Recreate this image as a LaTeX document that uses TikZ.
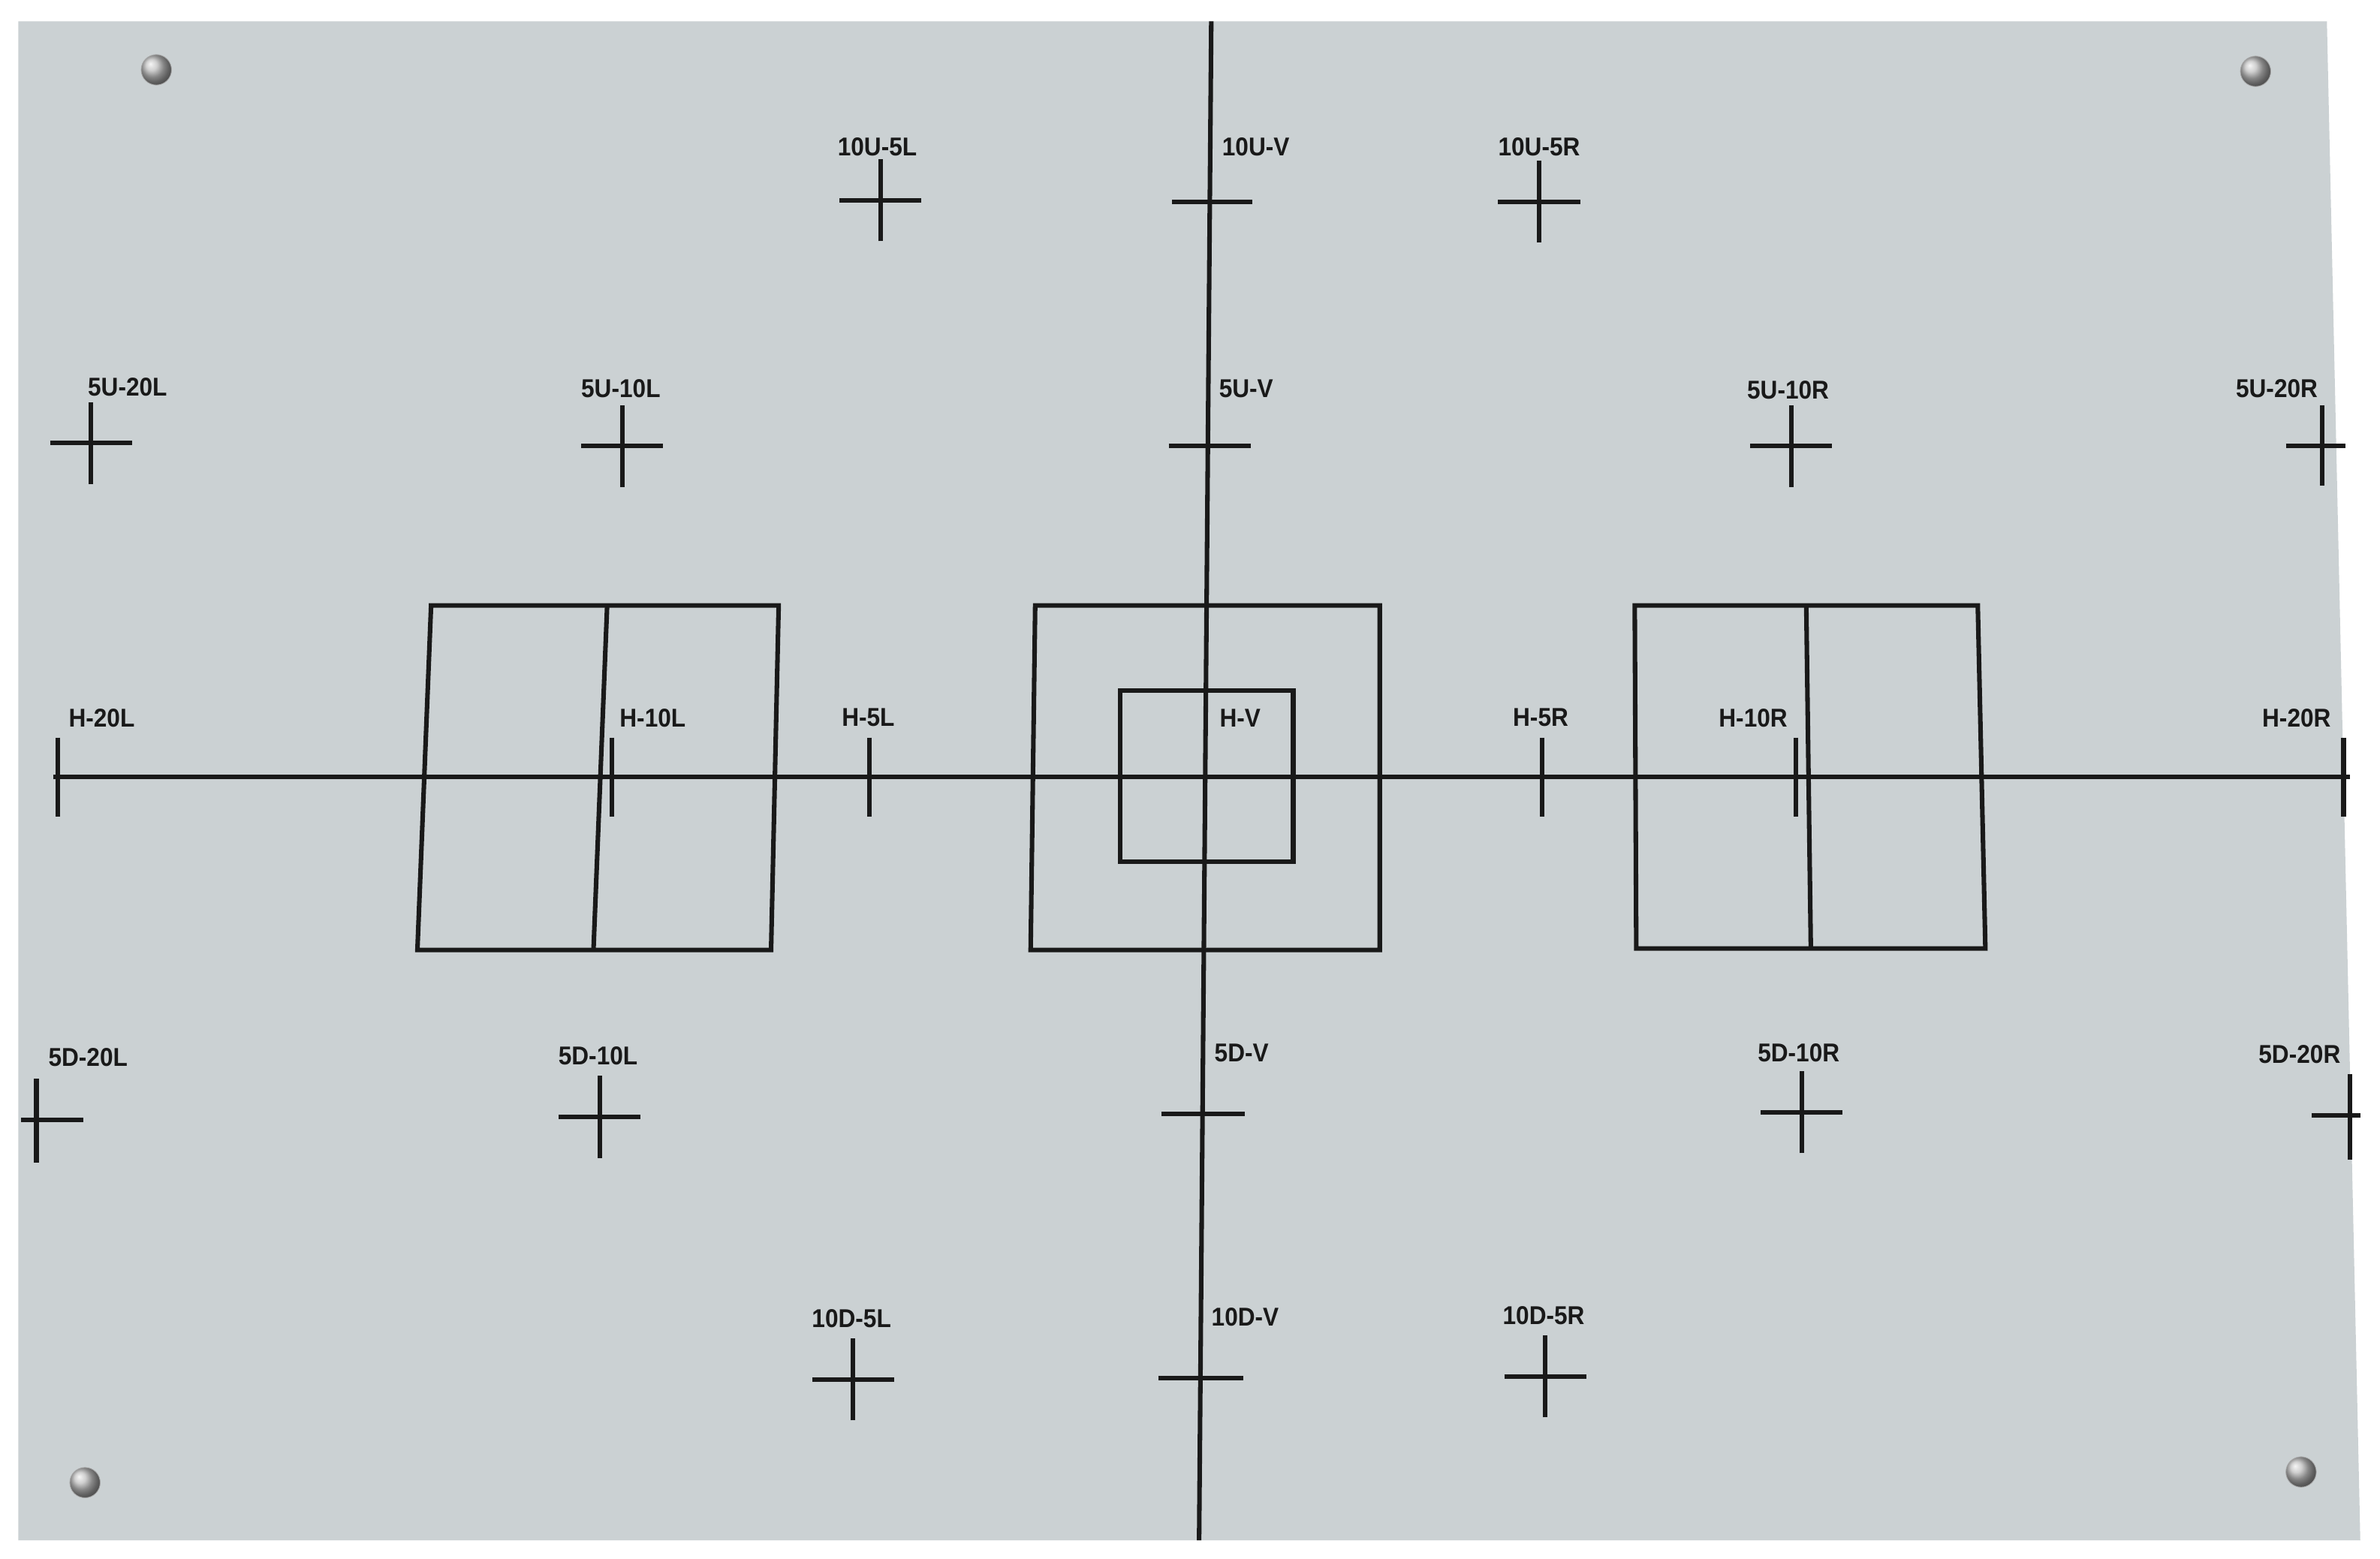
\documentclass[tikz,border=0pt]{standalone}
\usepackage{fontspec}
\setmainfont{Liberation Sans}
\definecolor{board}{HTML}{CBD1D3}
\begin{document}
\begin{tikzpicture}[x=1pt,y=-1pt,
  ln/.style={line width=3pt,black!90},
  lab/.style={font=\bfseries\fontsize{17}{17}\selectfont,inner sep=0pt,text=black!90,xscale=0.92},
  screw/.style={circle,minimum size=20pt,inner sep=0pt,ball color=gray!50,draw=gray!70}]
\useasboundingbox (0,0) rectangle (1568,1027);
\fill[white] (0,0) rectangle (1568,1027);
\fill[board] (12,14) -- (1533,14) -- (1555,1015) -- (12,1015) -- cycle;
\node[screw] (s1) at (103,46) {};
\node[screw] (s2) at (1486,47) {};
\node[screw] (s3) at (56,977) {};
\node[screw] (s4) at (1516,970) {};
% axes
\coordinate (vt) at (798,14); \coordinate (vb) at (790,1015);
\coordinate (hl) at (35,512); \coordinate (hr) at (1548,512);
\draw[ln] (vt) -- (vb);
\draw[ln] (hl) -- (hr);
% crosses
\newcommand{\crs}[3]{\coordinate (#1) at (#2,#3);
  \draw[ln] ([xshift=-27pt]#1) -- ([xshift=27pt]#1) ([yshift=-27pt]#1) -- ([yshift=27pt]#1);}
\crs{c1}{580}{132}\crs{c2}{1014}{133}
\crs{c3}{60}{292}\crs{c4}{410}{294}\crs{c5}{1180}{294}
\crs{c6}{395}{736}\crs{c7}{1187}{733}
\crs{c8}{562}{909}\crs{c9}{1018}{907}
\draw[ln] (1506,294) -- (1545,294) (1530,267) -- (1530,320);
\draw[ln] (14,738) -- (55,738) (24,711) -- (24,766);
\draw[ln] (1523,735) -- (1555,735) (1548,708) -- (1548,764);
% ticks on vertical
\foreach \y/\a/\b in {133/772/825,294/770/824,734/765/820,908/763/819}
  \draw[ln] (\a,\y) -- (\b,\y);
% ticks on horizontal
\foreach \x in {38,403,573,1016,1183,1544}
  \draw[ln] (\x,486) -- (\x,538);
% boxes
\draw[ln] (284,399) -- (513,399) -- (508,626) -- (275,626) -- cycle;
\draw[ln] (400,399) -- (391,626);
\draw[ln] (682,399) -- (909,399) -- (909,626) -- (679,626) -- cycle;
\draw[ln] (738,455) rectangle (852,568);
\draw[ln] (1077,399) -- (1303,399) -- (1308,625) -- (1078,625) -- cycle;
\draw[ln] (1190,399) -- (1193,625);
% labels
\node[lab] (l1) at (578,97) {10U-5L};
\node[lab,anchor=west] (l2) at (805,97) {10U-V};
\node[lab] (l3) at (1014,97) {10U-5R};
\node[lab] (l4) at (84,255) {5U-20L};
\node[lab] (l5) at (409,256) {5U-10L};
\node[lab,anchor=west] (l6) at (803,256) {5U-V};
\node[lab] (l7) at (1178,257) {5U-10R};
\node[lab] (l8) at (1500,256) {5U-20R};
\node[lab] (l9) at (67,473) {H-20L};
\node[lab] (l10) at (430,473) {H-10L};
\node[lab] (l11) at (572,473) {H-5L};
\node[lab] (l12) at (817,473) {H-V};
\node[lab] (l13) at (1015,473) {H-5R};
\node[lab] (l14) at (1155,473) {H-10R};
\node[lab] (l15) at (1513,473) {H-20R};
\node[lab] (l16) at (58,697) {5D-20L};
\node[lab] (l17) at (394,696) {5D-10L};
\node[lab,anchor=west] (l18) at (800,694) {5D-V};
\node[lab] (l19) at (1185,694) {5D-10R};
\node[lab] (l20) at (1515,695) {5D-20R};
\node[lab] (l21) at (561,869) {10D-5L};
\node[lab,anchor=west] (l22) at (798,868) {10D-V};
\node[lab] (l23) at (1017,867) {10D-5R};
\end{tikzpicture}
\end{document}
